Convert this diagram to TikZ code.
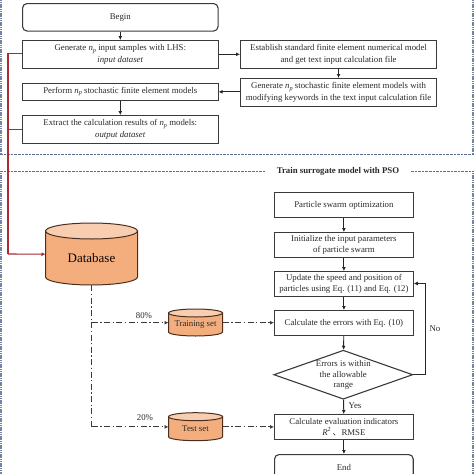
\documentclass[tikz,border=0pt]{standalone}
\usepackage{fontspec}
\setmainfont{Liberation Serif}
\newfontfamily\cjk{Noto Sans CJK SC}
\usetikzlibrary{arrows.meta,shapes.geometric}
\definecolor{frameblue}{HTML}{5B6E91}
\definecolor{boxline}{HTML}{3A3A3A}
\definecolor{cylfill}{HTML}{F4AE7E}
\definecolor{cyltop}{HTML}{F8CDB0}
\definecolor{cylline}{HTML}{4A2E1E}
\definecolor{redline}{HTML}{A82A32}
\definecolor{txt}{HTML}{2A2A2A}
\newcommand{\np}{\textit{n}\raisebox{-.35ex}{\fontsize{6.3}{6.3}\selectfont\textit{p}}}
\newcommand{\cyl}[5]{% x1 x2 ytop ybot ry
  \path[draw=cylline,line width=1pt,fill=cylfill] (#1,#3+#5) -- (#1,#4-#5)
    arc[start angle=180,end angle=360,x radius={(#2-#1)/2},y radius=-#5] -- (#2,#3+#5) -- cycle;
  \path[draw=cylline,line width=1pt,fill=cyltop] ({(#1+#2)/2},#3+#5)
    ellipse[x radius={(#2-#1)/2},y radius=#5];
}
\tikzset{
  box/.style={draw=boxline,line width=1.1pt,fill=white,inner sep=0pt,align=center,
    text=txt,font=\fontsize{8.8}{11.2}\selectfont,anchor=north west},
  rbox/.style={box,rounded corners=4.5pt},
  arr/.style={draw=black!85,line width=.9pt,-{Latex[length=4pt,width=4pt]}},
  red/.style={draw=redline,line width=1.1pt},
  dd/.style={draw=boxline,line width=.9pt,dash pattern=on 6pt off 2.5pt on 1.3pt off 2.5pt},
  frameh/.style={draw=frameblue,line width=1pt,dash pattern=on 2.6pt off 1pt},
  framev/.style={draw=frameblue!85,line width=1.6pt,dash pattern=on 1.1pt off .7pt},
  lab/.style={text=txt,font=\fontsize{8.8}{10}\selectfont,inner sep=0pt},
  hole/.style={inner sep=0pt,anchor=north west},
}
\begin{document}
\begin{tikzpicture}[x=1pt,y=-1pt]
\useasboundingbox (0,0) rectangle (474,474);
\clip (0,0) rectangle (474,474);
% frames
\draw[framev] (1,0) -- (1,154.5);
\draw[framev] (1,171) -- (1,474);
\draw[framev] (473,0) -- (473,154.5);
\draw[framev] (473,171) -- (473,474);
\draw[frameh] (0,154.5) -- (474,154.5);
\draw[frameh] (0,171) -- (265,171);
\draw[frameh] (411,171) -- (474,171);
\node[lab,font=\fontsize{8.8}{10}\selectfont\bfseries] (title) at (338,171) {Train surrogate model with PSO};
% left column
\node[rbox,minimum width=195.5pt,minimum height=27.5pt] (begin) at (22,3) {Begin};
\node[box,minimum width=195.5pt,minimum height=27.5pt] (gen) at (22,40) {Generate \np{} input samples with LHS:\\\textit{input dataset}};
\node[box,minimum width=195.5pt,minimum height=16.5pt] (perform) at (22,83) {Perform \np{} stochastic finite element models};
\node[box,minimum width=195.5pt,minimum height=27.5pt] (extract) at (22,115) {Extract the calculation results of \np{} models:\\\textit{output dataset}};
% right top
\node[box,minimum width=196pt,minimum height=27.5pt] (estab) at (240,40) {Establish standard finite element numerical model\\and get text input calculation file};
\node[box,minimum width=196pt,minimum height=27.5pt] (genm) at (240,78) {Generate \np{} stochastic finite element models with\\modifying keywords in the text input calculation file};
\draw[arr] (begin) -- (gen);
\draw[arr] (perform) -- (extract);
\draw[arr] (gen.east) -- (gen.east -| estab.west);
\draw[arr] (estab) -- (genm);
\draw[arr] (genm.west |- perform.east) -- (perform.east);
% cylinders
\cyl{45.5}{137.5}{223}{285}{8}
\cyl{168.5}{222.5}{309}{336}{4}
\cyl{168.5}{222.5}{412.7}{440.7}{4}
\node[hole,minimum width=92pt,minimum height=62pt] (db) at (45.5,223) {};
\node[hole,minimum width=54pt,minimum height=27pt] (train) at (168.5,309) {};
\node[hole,minimum width=54pt,minimum height=28pt] (test) at (168.5,412.7) {};
\node[text=black!85!cylline,font=\fontsize{13}{13}\selectfont,inner sep=0pt] (dbt) at (91.5,258) {Database};
\node[lab] (traint) at (195.5,325) {Training set};
\node[lab] (testt) at (195.5,429) {Test set};
% red
\coordinate (rt) at (8,53.5);
\coordinate (rb) at (8,254);
\draw[red] (gen.west |- rt) -- (rt) -- (rb);
\draw[red] (extract.west) -- (extract.west -| rt);
\draw[red,-{Latex[length=4pt,width=4pt]}] (rb) -- (db.west);
% PSO
\node[box,minimum width=138.7pt,minimum height=24.7pt] (pso) at (274,192) {Particle swarm optimization};
\node[box,minimum width=138.7pt,minimum height=24.7pt] (init) at (274,232) {Initialize the input parameters\\of particle swarm};
\node[box,minimum width=138.7pt,minimum height=25pt] (upd) at (274,271) {Update the speed and position of\\particles using Eq. (11) and Eq. (12)};
\node[box,minimum width=138.7pt,minimum height=25pt] (calc) at (274,310) {Calculate the errors with Eq. (10)};
\node[draw=boxline,line width=1.1pt,fill=white,diamond,aspect=2.83,inner sep=0pt,minimum width=139pt,minimum height=49pt] (dia) at (343.3,374.7) {};
\node[lab,align=center,font=\fontsize{8.8}{10.8}\selectfont] (diat) at (343.3,375) {Errors is within\\the allowable\\range};
\node[box,minimum width=138.7pt,minimum height=25pt] (eval) at (274,414) {Calculate evaluation indicators\\\textit{R}\textsuperscript{2}\,{\cjk\fontsize{8.8}{8.8}\selectfont 、}RMSE};
\node[rbox,minimum width=138.7pt,minimum height=30pt] (end) at (274,454) {\raisebox{4pt}{End}};
\draw[arr] (pso) -- (init);
\draw[arr] (init) -- (upd);
\draw[arr] (upd) -- (calc);
\draw[arr] (calc) -- (dia);
\draw[arr] (dia) -- (eval);
\draw[arr] (eval) -- (end);
\coordinate (fb) at (425.5,283.5);
\draw[arr] (dia.east) -- (dia.east -| fb) -- (fb) -- (upd.east |- fb);
\node[lab] (no) at (435,328.5) {No};
\node[lab] (yes) at (355,405.5) {Yes};
% dash-dot
\coordinate (corner) at (db.south |- test.west);
\draw[dd] (db.south) -- (corner);
\draw[dd,-{Latex[length=4pt,width=4pt]}] (corner) -- (test.west);
\draw[dd,-{Latex[length=4pt,width=4pt]}] (db.south |- train.west) -- (train.west);
\draw[dd,-{Latex[length=4pt,width=4pt]}] (train.east) -- (calc.west |- train.east);
\draw[dd,-{Latex[length=4pt,width=4pt]}] (test.east) -- (eval.west |- test.east);
\node[lab] (p80) at (144,316) {80\%};
\node[lab] (p20) at (145,418) {20\%};
\end{tikzpicture}
\end{document}
